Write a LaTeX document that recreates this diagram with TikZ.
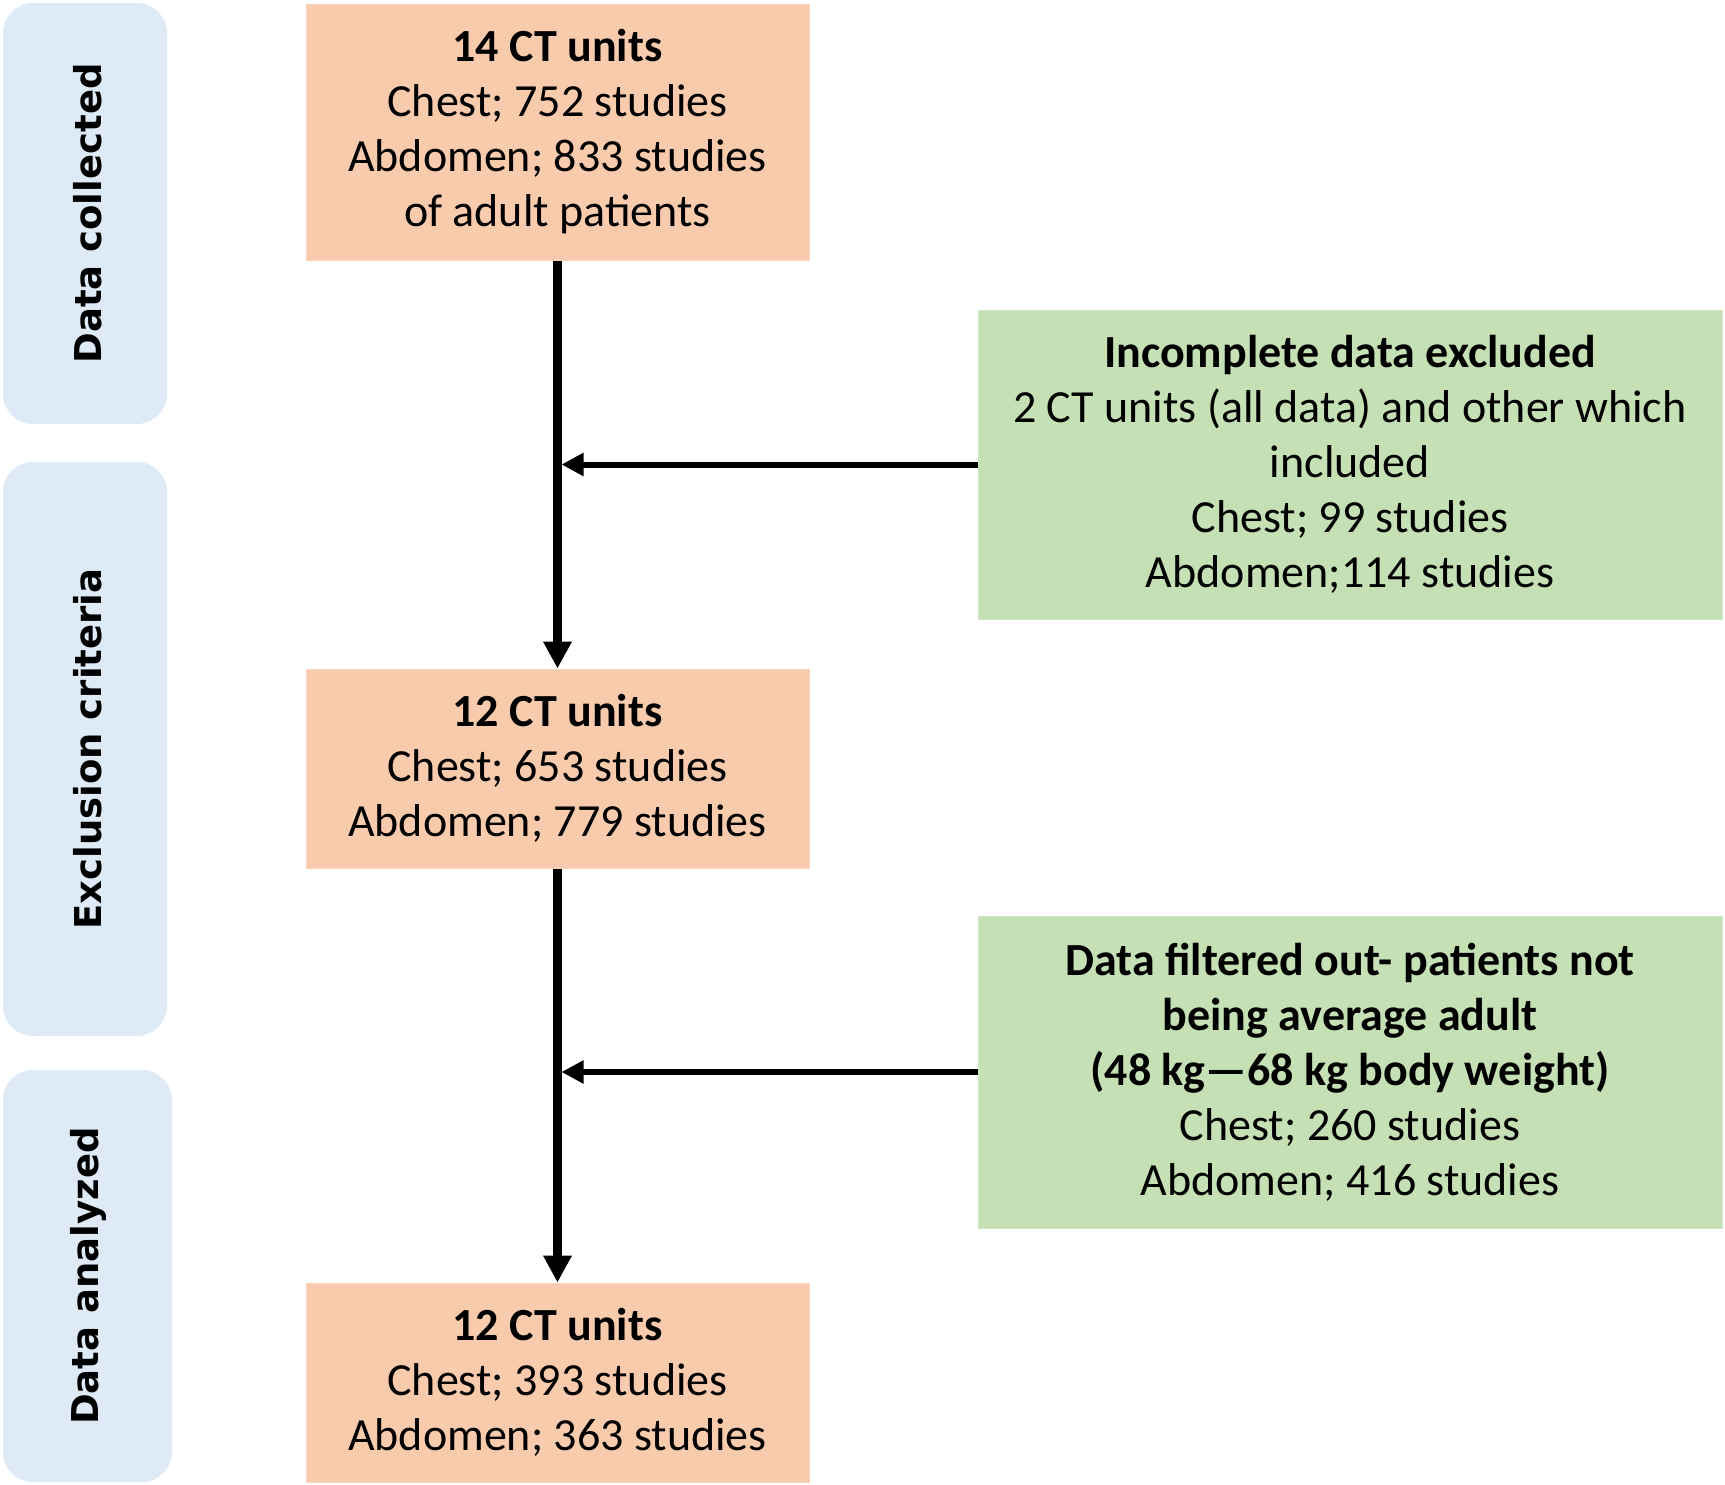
\documentclass[tikz,border=0pt]{standalone}
\usepackage{fontspec}
\setmainfont{Carlito}
\newfontfamily\sidefont{DejaVu Sans}
\usetikzlibrary{arrows.meta}
\definecolor{orfill}{HTML}{F8CBAD}
\definecolor{grfill}{HTML}{C5E0B4}
\definecolor{blfill}{HTML}{DEEBF7}
\tikzset{
  mainfont/.style={font=\fontsize{46}{55}\selectfont, align=center, text=black},
  orbox/.style={mainfont, fill=orfill, draw=orfill!80!white, line width=1pt, minimum width=503pt, inner sep=0pt},
  grbox/.style={mainfont, fill=grfill, draw=grfill!80!white, line width=1pt, minimum width=744pt, inner sep=0pt},
  sidebox/.style={fill=blfill, rounded corners=30pt, minimum width=164pt, inner sep=0pt},
  sidelabel/.style={font=\sidefont\bfseries\fontsize{37}{44}\selectfont, rotate=90},
  varr/.style={line width=8.5pt, -{Triangle[length=27pt,width=27pt]}},
  harr/.style={line width=6pt, -{Triangle[length=22pt,width=22pt]}}
}
\begin{document}
\begin{tikzpicture}
\useasboundingbox[fill=white] (0pt,0pt) rectangle (1725pt,-1484pt);
% side boxes
\node[sidebox, minimum height=421pt] (b1) at (85pt,-213.5pt) {};
\node[sidelabel] (l1) at (88pt,-213.5pt) {Data collected};
\node[sidebox, minimum height=574pt] (b2) at (85pt,-749pt) {};
\node[sidelabel] (l2) at (88pt,-749pt) {Exclusion criteria};
\node[sidebox, minimum height=412pt, minimum width=169pt] (b3) at (87.5pt,-1276pt) {};
\node[sidelabel] (l3) at (88pt,-1276pt) {Data analyzed};
% main boxes
\node[orbox, minimum height=256pt] (o1) at (557.5pt,-132pt)
  {\textbf{14 CT units}\\Chest; 752 studies\\Abdomen; 833 studies\\of adult patients};
\node[orbox, minimum height=199pt] (o2) at (557.5pt,-768.5pt)
  {\textbf{12 CT units}\\Chest; 653 studies\\Abdomen; 779 studies};
\node[orbox, minimum height=199pt] (o3) at (557.5pt,-1382.5pt)
  {\textbf{12 CT units}\\Chest; 393 studies\\Abdomen; 363 studies};
\node[grbox, minimum height=309pt] (g1) at (1350pt,-464.5pt)
  {\textbf{Incomplete data excluded}\\2 CT units (all data) and other which\\included\\Chest; 99 studies\\Abdomen;114 studies};
\node[grbox, minimum height=312pt] (g2) at (1350pt,-1072pt)
  {\textbf{Data filtered out- patients not}\\\textbf{being average adult}\\\textbf{(48 kg\textemdash68 kg body weight)}\\Chest; 260 studies\\Abdomen; 416 studies};
% connectors
\draw[varr] (o1.south) -- (o2.north);
\draw[varr] (o2.south) -- (o3.north);
\draw[harr] (g1.west) -- ([xshift=4pt]g1.west -| o1.south);
\draw[harr] (g2.west) -- ([xshift=4pt]g2.west -| o1.south);
\end{tikzpicture}
\end{document}
